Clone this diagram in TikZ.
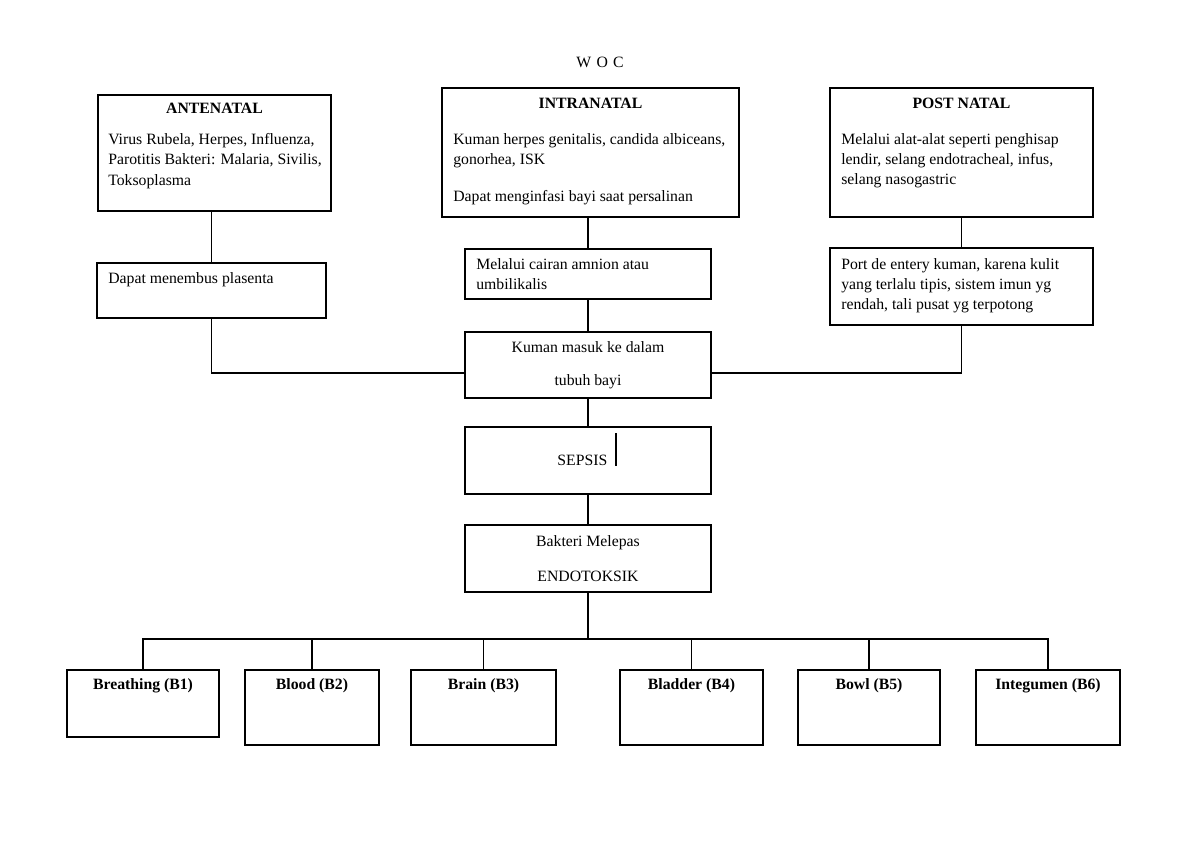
\documentclass[tikz,border=0pt]{standalone}
\usepackage{fontspec}
\setmainfont{Liberation Serif}
\usetikzlibrary{positioning}

\begin{document}
\begin{tikzpicture}[
  x=0.025cm, y=-0.025cm,
  every node/.style={font=\fontsize{11.2}{14.5}\selectfont},
  box/.style={draw, line width=1.1pt, inner sep=0pt, align=center},
  txt/.style={anchor=north west, align=left, inner sep=0pt},
  head/.style={font=\fontsize{11.2}{14.5}\selectfont\bfseries, inner sep=0pt},
  link/.style={line width=1.1pt}
]
\useasboundingbox (0,0) rectangle (1200,848);

\node[inner sep=0pt] (woc) at (600,62) {W\,\,O\,\,C};

% sumber infeksi
\node[box, minimum width=5.825cm, minimum height=2.9cm] (ante) at (214.5,153) {};
\node[head, below=6pt of ante.north] (anteT) {ANTENATAL};
\node[txt] (anteB) at (108,133) {Virus Rubela, Herpes, Influenza,\\Parotitis Bakteri: Malaria, Sivilis,\\Toksoplasma};

\node[box, minimum width=7.425cm, minimum height=3.225cm] (intra) at (590.5,152.5) {};
\node[head, below=7.4pt of intra.north] (intraT) {INTRANATAL};
\node[txt] (intraB) at (453,133) {Kuman herpes genitalis, candida albiceans,\\gonorhea, ISK\\[12pt]Dapat menginfasi bayi saat persalinan};

\node[box, minimum width=6.575cm, minimum height=3.225cm] (post) at (961.5,152.5) {};
\node[head, below=7.4pt of post.north] (postT) {POST NATAL};
\node[txt] (postB) at (841,133) {Melalui alat-alat seperti penghisap\\lendir, selang endotracheal, infus,\\selang nasogastric};

% jalur masuk
\node[box, minimum width=5.725cm, minimum height=1.375cm] (dapat) at (211.5,290.5) {};
\node[txt] (dapatB) at (108,272) {Dapat menembus plasenta};

\node[box, minimum width=6.15cm, minimum height=1.25cm] (amnion) at (588,274) {};
\node[txt] (amnionB) at (476,258) {Melalui cairan amnion atau\\umbilikalis};

\node[box, minimum width=6.575cm, minimum height=1.925cm] (port) at (961.5,286.5) {};
\node[txt] (portB) at (841,258) {Port de entery kuman, karena kulit\\yang terlalu tipis, sistem imun yg\\rendah, tali pusat yg terpotong};

% alur tengah
\node[box, minimum width=6.15cm, minimum height=1.65cm] (kuman) at (588,365) {Kuman masuk ke dalam\\[9pt]tubuh bayi};
\node[box, minimum width=6.15cm, minimum height=1.675cm] (sepsis) at (588,460.5) {SEPSIS\hspace*{8pt}};
\node[box, minimum width=6.15cm, minimum height=1.675cm] (bakteri) at (588,558.5) {Bakteri Melepas\\[10pt]ENDOTOKSIK};
\draw[link] (616,433) -- (616,466);

% sistem B1-B6
\node[box, minimum width=3.8cm, minimum height=1.675cm] (b1) at (143,703.5) {};
\node[head, below=6.5pt of b1.north] (b1T) {Breathing (B1)};
\node[box, minimum width=3.35cm, minimum height=1.875cm] (b2) at (312,707.5) {};
\node[head, below=6.5pt of b2.north] (b2T) {Blood (B2)};
\node[box, minimum width=3.625cm, minimum height=1.875cm] (b3) at (483.5,707.5) {};
\node[head, below=6.5pt of b3.north] (b3T) {Brain (B3)};
\node[box, minimum width=3.575cm, minimum height=1.875cm] (b4) at (691.5,707.5) {};
\node[head, below=6.5pt of b4.north] (b4T) {Bladder (B4)};
\node[box, minimum width=3.55cm, minimum height=1.875cm] (b5) at (869,707.5) {};
\node[head, below=6.5pt of b5.north] (b5T) {Bowl (B5)};
\node[box, minimum width=3.6cm, minimum height=1.875cm] (b6) at (1048,707.5) {};
\node[head, below=6.5pt of b6.north] (b6T) {Integumen (B6)};

\coordinate (bus) at (588,639);

\draw[link] (dapat.north) -- (dapat.north |- ante.south);
\draw[link] (amnion.north) -- (amnion.north |- intra.south);
\draw[link] (post) -- (port);
\draw[link] (dapat.south) |- ([yshift=-0.2cm]kuman.west);
\draw[link] (port.south) |- ([yshift=-0.2cm]kuman.east);
\draw[link] (amnion) -- (kuman);
\draw[link] (kuman) -- (sepsis);
\draw[link] (sepsis) -- (bakteri);
\draw[link] (bakteri.south) -- (bus);
\draw[link] (b1.north) |- (bus) -| (b6.north);
\draw[link] (b2.north) -- (b2.north |- bus);
\draw[link] (b3.north) -- (b3.north |- bus);
\draw[link] (b4.north) -- (b4.north |- bus);
\draw[link] (b5.north) -- (b5.north |- bus);
\end{tikzpicture}
\end{document}
